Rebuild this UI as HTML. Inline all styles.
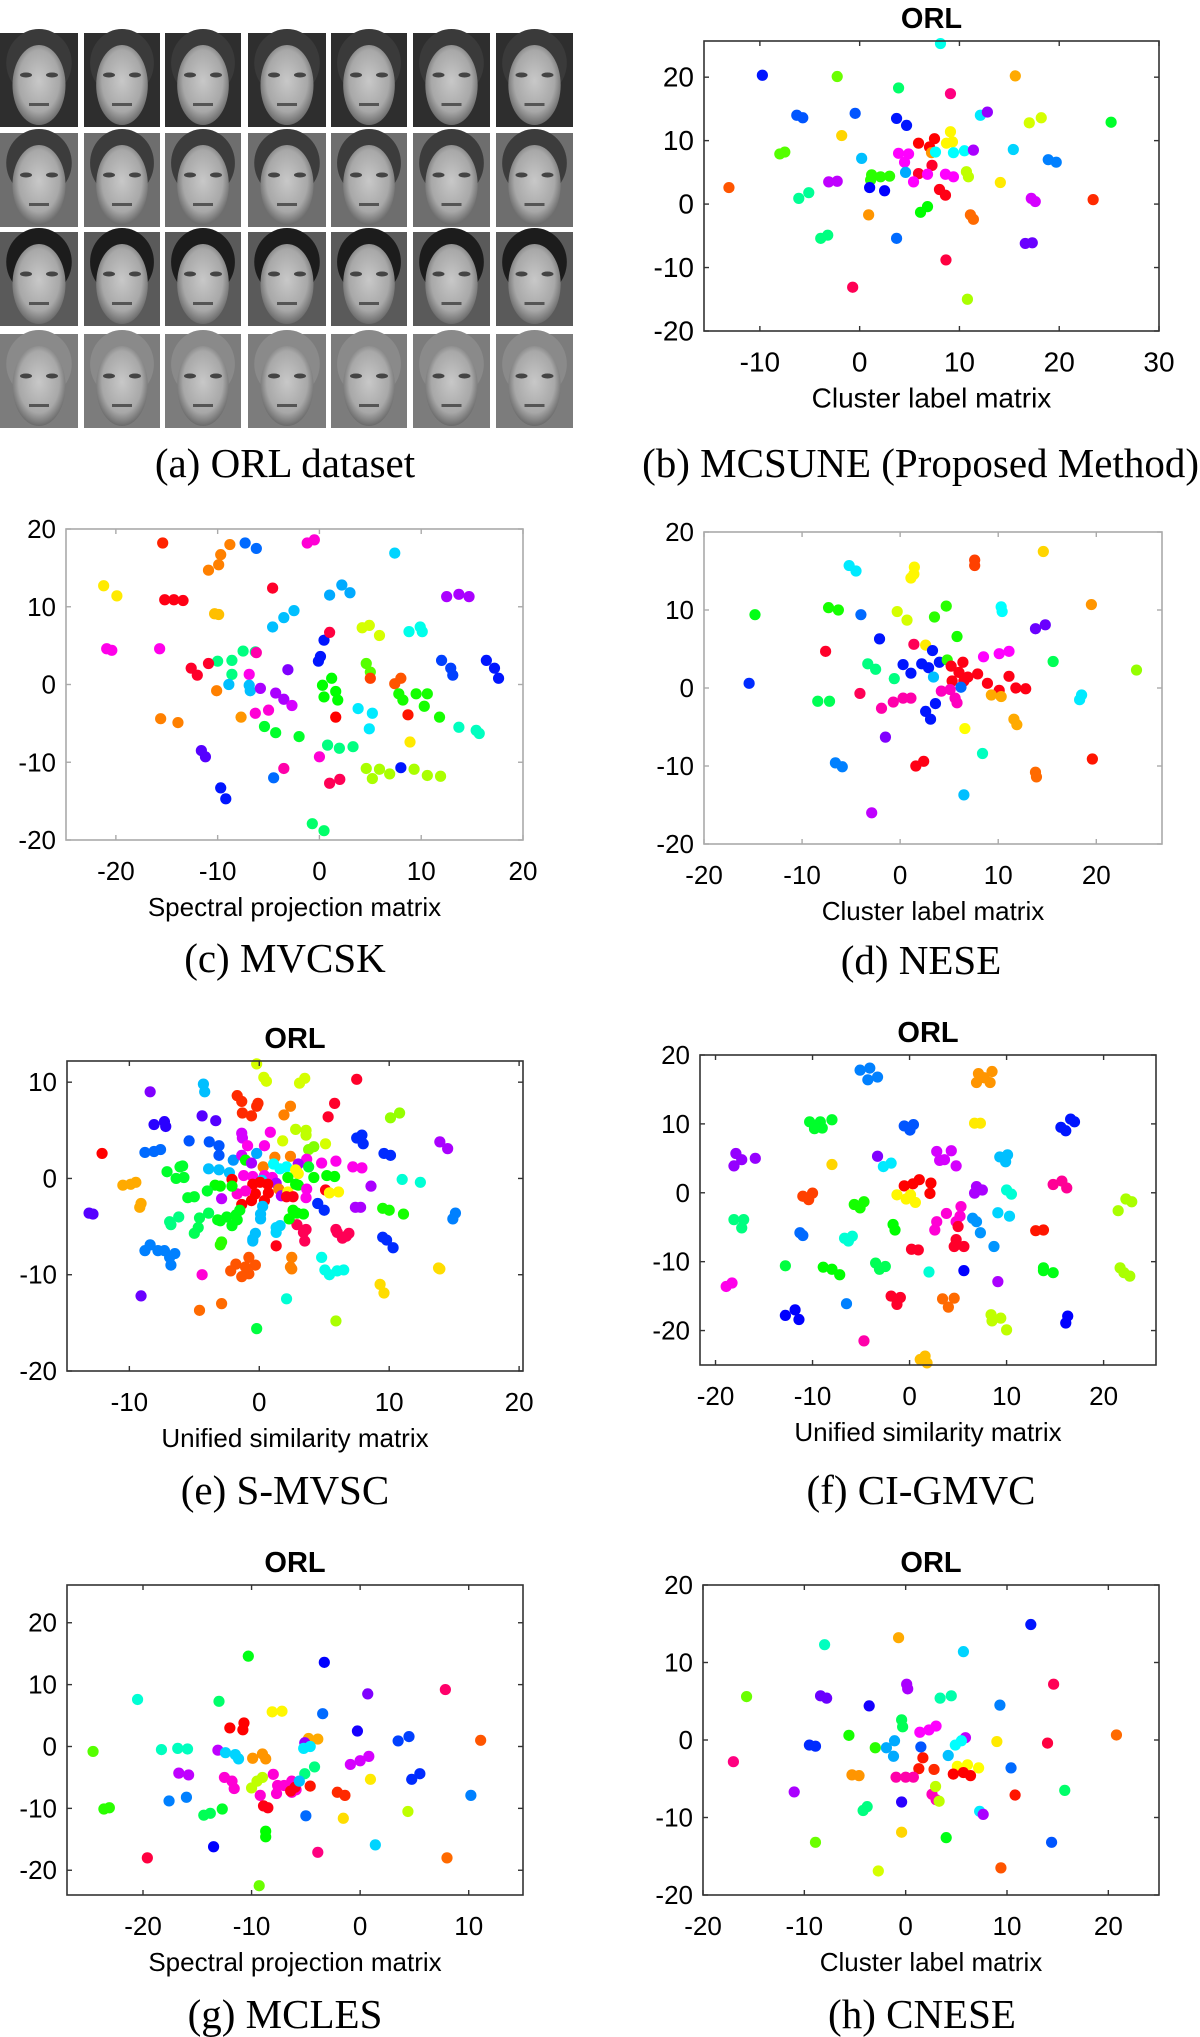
<!DOCTYPE html>
<html>
<head>
<meta charset="utf-8">
<style>
html,body{margin:0;padding:0;background:#fff;}
#fig{display:block;width:1200px;height:2037px;}
</style>
</head>
<body>
<svg id="fig" xmlns="http://www.w3.org/2000/svg" width="1200" height="2037" viewBox="0 0 1200 2037">
<defs>
<radialGradient id="faceL" cx="50%" cy="45%" r="55%"><stop offset="0" stop-color="#c8c8c8"/><stop offset="0.7" stop-color="#a8a8a8"/><stop offset="1" stop-color="#6a6a6a"/></radialGradient>
</defs>
<g id="faces"></g>
<g id="plots"></g>
</svg>
<script>
// ---------- data (x, y, cluster hue) ----------
const ptsB = [[-9.75,20.3,235],[-2.25,20.1,95],[8.1,25.3,175],[3.9,18.3,145],[9.1,17.4,330],[15.6,20.2,40],[-6.3,14,220],[-5.7,13.6,220],[-0.45,14.3,220],[3.7,13.5,235],[4.7,12.4,235],[12.1,14,185],[12.8,14.5,275],[17,12.8,70],[18.2,13.6,70],[25.2,12.9,130],[-1.8,10.8,50],[-8,7.9,100],[-7.5,8.2,100],[5.9,9.6,0],[7,9,0],[7.5,10.3,0],[9.1,11.4,58],[8.7,9.6,58],[9.3,9.8,58],[7.2,8.1,35],[7.6,8.2,180],[9.4,8.1,180],[10.5,8.4,180],[11.4,8.5,280],[0.2,7.2,195],[3.9,8,300],[4.9,7.9,300],[4.5,6.6,300],[15.4,8.6,190],[18.9,7,210],[19.7,6.6,210],[1.2,4.6,110],[2.1,4.3,110],[3,4.4,110],[1.1,3.8,110],[-3.1,3.5,285],[-2.25,3.6,285],[1,2.6,240],[2.5,2.1,240],[4.6,5,200],[5.9,4.8,350],[7.25,6.1,350],[5.4,3.5,300],[6.8,4.7,300],[8.6,4.7,300],[9.4,4.3,300],[8,2.3,355],[8.6,1.4,355],[10.7,5.1,75],[10.9,4.3,75],[14.1,3.4,55],[-6.1,0.9,155],[-5.1,1.8,155],[-13.1,2.6,20],[17.2,0.9,290],[17.6,0.4,290],[23.4,0.7,10],[0.9,-1.7,35],[6.1,-1.3,120],[6.8,-0.4,120],[11.1,-1.7,25],[11.4,-2.4,25],[-3.9,-5.4,150],[-3.2,-4.9,150],[3.7,-5.4,215],[16.6,-6.2,265],[17.3,-6.1,265],[8.65,-8.8,345],[-0.7,-13.1,340],[10.8,-15,80]];
const ptsC = [[-15.4,18.2,8],[-10.9,14.7,30],[-9.9,15.4,30],[-9.7,16.7,30],[-8.8,18,30],[-7.3,18.2,215],[-6.2,17.5,215],[-0.5,18.6,310],[-1.2,18.2,310],[7.4,16.9,190],[-21.2,12.7,55],[-19.9,11.4,55],[-15.2,10.9,355],[-14.3,10.9,355],[-13.4,10.8,355],[-9.9,9,45],[-10.3,9.1,45],[-4.6,12.4,350],[1,11.5,200],[2.2,12.8,200],[3,11.8,200],[12.5,11.3,280],[13.7,11.6,280],[14.7,11.3,280],[-4.6,7.4,195],[-3.5,8.6,195],[-2.5,9.5,195],[4.2,7.3,70],[4.9,7.6,70],[5.9,6.3,70],[8.8,6.8,175],[9.9,7.4,175],[10.1,6.8,175],[-20.9,4.6,305],[-20.4,4.4,305],[-15.7,4.6,305],[0.45,5.7,235],[0.1,3.6,235],[-0.1,3,235],[1,6.7,345],[-10,3,150],[-8.6,3.1,150],[-8.6,1.3,150],[-7.5,4.3,150],[-6.3,4.2,150],[-12.6,2.1,350],[-12,1.2,350],[-10.9,2.7,350],[-3.1,1.9,270],[4.6,2.7,100],[5,1.6,100],[5,0.8,15],[12,3.1,225],[12.9,2.1,225],[13.1,1.2,225],[16.4,3.1,235],[17.2,2.1,235],[17.6,0.8,235],[-6.9,1.3,305],[-6.2,4.1,320],[-8.9,0,195],[-6.9,-0.1,195],[-6.8,-0.8,195],[-10.1,-0.8,30],[-5.8,-0.5,280],[-4.3,-1.1,280],[-3.5,-1.9,280],[-2.7,-2.7,290],[0.3,-0.1,120],[0.45,-1.6,120],[1.6,-0.9,120],[1.8,-2,120],[1.2,0.8,120],[7.4,0.1,20],[8,0.8,20],[7.8,-1.2,115],[8.2,-2,115],[9.5,-1.2,115],[10.6,-1.2,115],[10.3,-2.8,115],[11.8,-4.2,115],[-15.6,-4.4,30],[-13.9,-4.9,30],[-7.7,-4.2,35],[-6.3,-3.7,310],[-5,-3.3,310],[-5.4,-5.4,130],[-4.3,-6.2,130],[-2,-6.7,130],[1.6,-4.2,0],[3.8,-3.1,185],[5.2,-3.7,185],[4.9,-5.7,185],[8.7,-3.9,5],[13.7,-5.5,165],[15.7,-6.3,165],[15.4,-5.9,165],[0.8,-7.8,150],[1.96,-8.2,150],[3.3,-8,150],[8.9,-7.4,55],[-11.6,-8.5,260],[-11.2,-9.3,260],[0,-9.3,310],[-4.5,-12,215],[-3.5,-10.8,320],[1,-12.7,340],[2,-12.2,340],[4.6,-10.8,80],[5.2,-12.1,80],[5.9,-10.9,80],[6.9,-11.5,80],[8,-10.7,235],[9.3,-10.9,80],[10.6,-11.7,80],[11.9,-11.8,80],[-9.7,-13.3,235],[-9.2,-14.7,235],[-0.7,-17.9,145],[0.45,-18.8,145]];
const ptsD = [[-5.2,15.7,185],[-4.5,15,185],[1.4,14.6,58],[1.1,14.1,58],[1.45,15.5,58],[7.6,16.4,15],[7.6,15.7,15],[14.6,17.5,50],[19.5,10.7,35],[-14.8,9.4,125],[-7.3,10.3,115],[-6.3,10,115],[-4,9.4,215],[-0.3,9.8,70],[0.7,8.7,70],[3.5,9.1,110],[4.7,10.5,110],[10.3,10.4,180],[10.4,9.8,180],[13.8,7.6,265],[14.8,8.1,265],[5.8,6.6,115],[-2.1,6.3,235],[-7.6,4.7,350],[1.4,5.6,340],[2.6,5.5,55],[3.3,4.8,235],[8.5,4,300],[10.1,4.4,300],[11.1,4.7,300],[15.6,3.4,140],[24.1,2.3,85],[-15.4,0.6,230],[-3.3,3.1,150],[-2.5,2.4,150],[0.3,3,235],[1.1,1.9,235],[2.2,3.1,235],[2.9,2.6,235],[4,3.3,235],[-0.6,1.2,150],[3.4,1.4,195],[4.8,3.6,110],[5.2,2.8,355],[6,2,355],[6.9,1.4,355],[7.9,1.8,355],[8.9,0.6,355],[10.1,-0.3,355],[11.1,1.5,355],[11.8,0,355],[12.8,-0.1,355],[6.4,3.3,355],[5.3,0.9,355],[6.5,0.9,355],[6.2,0.1,215],[4.2,-0.4,315],[5.1,-0.2,315],[5.6,-1.3,315],[5.8,-1.9,315],[-1.9,-2.6,320],[-0.7,-1.8,320],[0.3,-1.3,320],[1.1,-1.3,320],[9.3,-0.9,40],[10.3,-1.1,40],[18.3,-1.5,185],[18.5,-0.9,185],[-8.4,-1.7,140],[-7.2,-1.7,140],[-4.1,-0.7,340],[3.6,-2,235],[2.6,-3,235],[3.1,-4,235],[6.6,-5.2,60],[11.6,-4,40],[11.9,-4.7,40],[-1.5,-6.3,270],[8.4,-8.4,165],[1.6,-10,355],[2.4,-9.4,355],[-6.6,-9.6,210],[-5.9,-10.1,210],[19.6,-9.1,5],[13.9,-11.4,25],[13.8,-10.8,25],[6.5,-13.7,195],[-2.9,-16,285]];
const ptsE = [[-0.2,11.9,70],[0.35,10.5,70],[0.55,10.1,70],[3.1,9.9,70],[3.5,10.4,70],[7.5,10.3,350],[-8.4,9,270],[-4.3,9.8,195],[-4.2,9,195],[-1.7,8.6,10],[-1.35,8,10],[-1.3,6.8,10],[-0.6,6.5,10],[-0.2,7.5,10],[-0.1,7.8,10],[1.9,6.6,30],[2.4,7.5,30],[5.8,7.8,350],[5.3,6.4,350],[10.1,6.3,85],[10.8,6.8,85],[-4.4,6.5,260],[-3.35,6,260],[-8.1,5.6,250],[-7.3,5.9,250],[-7.2,5.4,250],[2.8,5.1,75],[3.6,5,75],[3.6,4.5,75],[-1.35,4.7,290],[-1.3,4.2,290],[0.85,4.8,305],[7.5,4.2,230],[7.9,4.5,230],[8,3.6,230],[13.9,3.8,280],[14.5,3.1,280],[-5.4,3.9,220],[-3.85,3.8,220],[-3.1,3.4,220],[-3.1,2.4,220],[-8.8,2.7,215],[-8.1,2.8,215],[-7.6,3,215],[-12.1,2.6,0],[1.8,3.9,70],[3.8,3,90],[4.2,3.3,90],[5.1,3.6,70],[9.6,2.6,230],[10.1,2.4,230],[-2,1.9,205],[-1.35,2.4,290],[-0.9,3.4,305],[-0.2,2.6,200],[0.4,3.4,305],[1.2,2.2,30],[2.4,2.3,30],[3.65,2,305],[3,1.5,280],[3.8,1.2,130],[4.8,1.6,305],[5.9,1.8,305],[7.2,1.2,305],[7.9,1.1,305],[-6.1,1.2,130],[-5.9,1.3,130],[-6.4,0,130],[-5.8,0.1,130],[-7.1,0.7,130],[-3.9,1,195],[-3.1,0.9,195],[-2.3,0.6,195],[-1.06,1.9,120],[-0.6,1.6,280],[0.3,1.2,30],[1.1,1.5,180],[1.6,1,180],[2.1,1.2,180],[2.8,0.9,58],[3,0.5,58],[2.2,0.1,120],[4.2,0.1,120],[5.2,0.3,120],[5.8,0.2,120],[-1.2,0.3,305],[-0.5,0.2,305],[0.4,0.3,305],[1,0.1,305],[1.3,-0.5,280],[0.2,-0.2,190],[-2.1,-0.1,0],[-0.5,-0.6,0],[0.06,-0.4,0],[0.65,-0.6,0],[0.7,-1.5,0],[-0.3,-1.6,0],[-0.6,-2.3,0],[0.4,-2.3,0],[-1.35,-2.7,0],[-1.7,-1.6,310],[-1.06,-1.3,310],[-2.9,-2.1,285],[1.5,-1.1,30],[1.7,-1.8,280],[2.2,-1.4,58],[2.6,-1.9,355],[2.1,-1.9,355],[2.8,-0.6,120],[3,-0.7,120],[3.65,-1.1,305],[3.6,-2,305],[-3.4,-0.7,120],[-3,-0.8,120],[-2.1,-0.8,120],[-10.5,-0.7,40],[-9.9,-0.6,40],[-9.5,-0.4,40],[-9.1,-2.6,40],[-9.2,-3,40],[-13.1,-3.6,260],[-12.8,-3.7,260],[-5.5,-2,130],[-5,-1.9,130],[-4,-1.3,130],[5.1,-1.2,355],[5.4,-1.5,58],[6.1,-1.4,58],[4.5,-2.6,230],[5,-3.3,230],[7.4,-3,280],[7.8,-3,280],[8.6,-0.8,280],[11,-0.1,170],[12.4,-0.4,170],[9.5,-3.1,115],[10,-3.3,115],[11.1,-3.7,115],[15.1,-3.6,210],[14.9,-4.2,210],[9.5,-6.1,230],[9.8,-6.4,230],[10.3,-7.2,230],[5.9,-5.3,340],[6,-5.6,340],[6.7,-6,340],[6.9,-5.7,340],[6.4,-6.2,340],[2.9,-4.8,340],[3.4,-5.6,340],[3.6,-5.3,340],[3.5,-6.5,340],[1.3,-5.1,190],[1.6,-4.9,190],[1.3,-5.6,190],[2.3,-4.2,120],[2.6,-3.3,120],[2.9,-3.6,120],[3.4,-3.7,120],[1.3,-7,355],[0.1,-3.7,195],[0.1,-4.2,195],[0.26,-2.9,195],[-0.3,-5.7,195],[-0.5,-6.3,195],[-0.5,-6.5,195],[-1.5,-3.3,125],[-1.8,-3.8,125],[-1.7,-4.3,125],[-2.1,-4.9,125],[-2.5,-4,125],[-3,-4.4,125],[-3.2,-4.3,125],[-3.9,-3.6,140],[-4.6,-4.1,140],[-4.7,-5.1,140],[-5,-5.7,140],[-6.2,-4,150],[-6.9,-4.5,150],[-6.8,-4.8,150],[-2.9,-6.6,110],[-3,-6.9,110],[-8.8,-7.5,210],[-8.4,-6.9,210],[-7.8,-7.5,210],[-7.3,-7.5,210],[-6.9,-8.2,210],[-6.5,-7.8,210],[-6.8,-9,210],[-0.8,-8.2,20],[-0.3,-9,20],[-0.8,-9.9,20],[-1.06,-9.2,20],[-1.35,-10.2,20],[-1.8,-8.9,20],[-2.2,-9.6,20],[2.5,-8.2,30],[2.4,-9.2,30],[2.5,-9.4,30],[4.8,-8.2,175],[5.05,-9.5,175],[5.4,-10,175],[6,-9.6,175],[6.5,-9.5,175],[-4.4,-10,310],[-9.1,-12.2,265],[-4.6,-13.7,25],[-2.9,-13,25],[2.1,-12.5,170],[-0.2,-15.6,135],[5.9,-14.8,80],[9.3,-11,52],[9.6,-11.9,52],[13.8,-9.3,52],[13.9,-9.4,52]];
const ptsF = [[-5.1,17.8,210],[-4.1,18.1,210],[-4.3,16.4,210],[-3.3,16.8,210],[7.1,17.3,35],[8.5,17.6,35],[7.7,16.7,35],[6.9,16,35],[8.3,16,35],[-10.3,10.3,130],[-9.2,10.3,130],[-8,10.6,130],[-9,9.4,130],[-9.8,9.3,130],[-0.55,9.7,220],[0.4,9.9,220],[0.04,9.1,220],[6.7,10.1,55],[7.3,10.1,55],[15.6,9.5,235],[16.6,10.7,235],[17,10.3,235],[16.1,9,235],[-17.9,5.7,275],[-17.3,4.8,275],[-15.9,5,275],[-18.1,3.9,275],[-8,4.1,50],[-3.3,5.3,270],[-2.7,3.8,185],[-1.9,4.3,185],[2.8,6,290],[4.3,6.1,290],[3.6,4.8,290],[4.8,3.9,290],[3.1,4.7,290],[9.3,5.2,195],[10.1,5.5,195],[9.9,4.5,195],[-0.55,1,0],[0.35,1.3,0],[1,1.9,0],[2.2,1.4,0],[2.1,-0.1,0],[6.9,0.9,280],[7.5,0.4,280],[6.7,-0.05,280],[10,0.4,170],[10.5,-0.2,170],[14.8,1.2,325],[15.7,1.7,325],[16.2,0.7,325],[22.3,-0.9,80],[22.9,-1.3,80],[21.5,-2.6,80],[-11,-0.5,15],[-10,-0.05,15],[-10.4,-1,15],[-1.3,-0.3,58],[-0.35,-0.9,58],[0.6,-1.4,58],[0.1,-0.3,58],[-5.7,-1.7,115],[-5.1,-2.2,115],[-4.7,-1.3,115],[-18.1,-3.9,150],[-17.1,-3.9,150],[-17.3,-5.1,150],[2.8,-4.2,310],[3.8,-3,310],[5.2,-3.4,310],[4.8,-4.2,310],[2.6,-5.4,310],[5.3,-2,310],[5,-4.9,350],[4.8,-6.8,350],[4.6,-7.8,350],[5.6,-7.8,350],[6.5,-3.7,205],[6.9,-4.2,205],[9.1,-2.9,190],[10.3,-3.4,190],[13,-5.5,5],[13.8,-5.4,5],[-11.3,-5.8,215],[-11,-6.2,215],[-1.7,-4.6,120],[-1.5,-5.4,120],[-6.7,-6.6,170],[-5.9,-6.3,170],[-6.3,-7,170],[7.3,-5.8,205],[8.7,-7.8,205],[0.2,-8.2,350],[0.9,-8.3,350],[-12.8,-10.6,135],[-8.9,-10.8,120],[-8,-11.1,120],[-7.2,-11.9,120],[-3.5,-10.2,140],[-2.5,-10.7,140],[-3.1,-11.1,140],[2,-11.5,170],[5.6,-11.3,240],[9.1,-12.9,280],[13.8,-11.3,125],[14.8,-11.6,125],[13.8,-10.9,125],[21.7,-10.9,80],[22.7,-12.1,80],[22.1,-11.6,80],[-18.9,-13.6,305],[-18.3,-13.1,305],[-11.8,-17,240],[-12.8,-17.8,240],[-11.4,-18.4,240],[-6.5,-16.1,210],[-1.9,-15,350],[-1.3,-16.2,350],[-0.95,-15.2,350],[3.4,-15.4,25],[4.6,-15.3,25],[4,-16.6,25],[8.5,-18.6,75],[9.4,-18.2,75],[10,-19.9,75],[8.4,-17.7,75],[16.3,-17.9,240],[16.1,-18.9,240],[-4.7,-21.5,320],[1.6,-23.7,45],[1.1,-24.2,45],[1.8,-24.7,45]];
const ptsG = [[-10.3,14.6,125],[-3.3,13.6,240],[7.85,9.2,335],[0.7,8.5,270],[-20.5,7.6,170],[-13,7.3,145],[-8.1,5.6,58],[-7.2,5.7,58],[-3.45,5.3,215],[-12,3,0],[-10.7,3.8,0],[-10.8,2.7,0],[-0.25,2.5,245],[3.5,0.9,225],[4.5,1.6,225],[11.1,1,20],[-4.75,1.3,40],[-3.9,1.2,40],[-5.1,0.6,275],[-5.2,-0.3,185],[-4.6,0,185],[-24.6,-0.8,100],[-18.3,-0.5,165],[-16.8,-0.3,165],[-15.9,-0.4,165],[-13.1,-0.6,285],[-12.4,-1,190],[-11.5,-1.3,190],[-11.2,-2,190],[-9.9,-1.9,35],[-9,-1.2,35],[-8.7,-2,35],[-0.9,-2.9,290],[0,-2.3,290],[0.8,-1.6,290],[-5.1,-4.4,150],[-4.2,-3.3,150],[-16.7,-4.3,285],[-15.8,-4.6,285],[-12.5,-5,310],[-11.8,-5.6,310],[-11.6,-6.8,310],[-8,-4.5,310],[-10,-6.7,75],[-9.5,-5.6,75],[-9,-5,75],[-7.6,-6.3,310],[-7,-6.3,310],[-6.3,-5.6,310],[-5.9,-7,310],[-6.3,-7.4,310],[-7.7,-7.6,310],[-6.4,-7.2,355],[-6,-6.6,355],[-4.6,-6.4,5],[-5.6,-5.6,195],[-9.2,-7.9,310],[4.75,-5.3,230],[5.5,-4.4,230],[0.95,-5.3,55],[-2.1,-7.4,10],[-1.4,-7.9,10],[-17.6,-8.8,210],[-16,-8.2,210],[-23.6,-10.1,110],[-23.1,-9.9,110],[-14.4,-11.1,140],[-13.8,-10.8,140],[-12.7,-10.1,130],[-8.9,-9.6,355],[-8.5,-9.9,355],[-5,-11.2,215],[-1.55,-11.6,52],[4.4,-10.5,75],[10.2,-7.9,210],[-8.7,-13.7,120],[-8.7,-14.6,120],[1.4,-15.9,190],[-13.5,-16.2,240],[-3.9,-17.1,330],[-19.6,-18,345],[8,-18,25],[-9.3,-22.5,95]];
const ptsH = [[12.35,14.9,235],[-0.7,13.2,40],[-8,12.3,165],[5.7,11.4,190],[0.1,7.2,280],[0.2,6.6,280],[14.6,7.2,340],[-15.7,5.6,95],[-8.4,5.7,265],[-7.8,5.4,265],[3.4,5.4,160],[4.5,5.7,160],[9.3,4.5,210],[-3.6,4.4,245],[-0.4,2.6,140],[-0.3,1.7,140],[1.4,1,300],[2.3,1.3,300],[3,1.8,300],[-5.6,0.6,115],[-1.1,-0.1,200],[-1.9,-1,200],[-1.2,-2.1,200],[1.5,-0.9,220],[-9.5,-0.65,230],[-8.9,-0.8,230],[-17,-2.8,330],[-3,-1,110],[5.9,0.3,285],[4.9,-0.65,180],[5.5,-0.1,180],[9,-0.2,55],[14,-0.4,345],[20.8,0.65,25],[4.2,-2,195],[1.7,-2.3,5],[1.3,-3.7,5],[2.8,-3.8,10],[5.1,-3.4,60],[6.1,-3.2,60],[7.2,-3.6,60],[4.7,-4.4,0],[5.7,-4.2,0],[6.4,-4.6,0],[10.4,-3.6,215],[-5.3,-4.5,35],[-4.6,-4.6,35],[-0.95,-4.8,320],[0,-4.8,320],[0.76,-4.8,320],[15.7,-6.5,145],[10.8,-7.1,5],[2.6,-7,315],[3,-7.7,315],[2.95,-6,75],[3.3,-7.9,75],[-11,-6.7,280],[-4.2,-9.1,150],[-3.8,-8.6,150],[-0.4,-8,250],[7.3,-9.2,185],[7.65,-9.6,280],[-0.4,-11.9,50],[4,-12.6,125],[-8.9,-13.2,95],[14.4,-13.2,220],[9.4,-16.5,20],[-2.7,-16.9,70]];

// tick value arrays
const ticksBx = [-10,0,10,20,30], ticksBy = [-20,-10,0,10,20];
const ticksCx = [-20,-10,0,10,20], ticksCy = [-20,-10,0,10,20];
const ticksDx = [-20,-10,0,10,20], ticksDy = [-20,-10,0,10,20];
const ticksEx = [-10,0,10,20], ticksEy = [-20,-10,0,10];
const ticksFx = [-20,-10,0,10,20], ticksFy = [-20,-10,0,10,20];
const ticksGx = [-20,-10,0,10], ticksGy = [-20,-10,0,10,20];
const ticksHx = [-20,-10,0,10,20], ticksHy = [-20,-10,0,10,20];

const NS = "http://www.w3.org/2000/svg";
function mk(tag, attrs, parent){
  const e = document.createElementNS(NS, tag);
  for (const k in attrs) e.setAttribute(k, attrs[k]);
  if (parent) parent.appendChild(e);
  return e;
}

// ---------- faces ----------
const faceG = document.getElementById('faces');
const colX = [0,84,165,248,331,413,496], colW = [78,76,76,78,76,77,77];
const rowY = [33,133,232,334], rowH = 94;
const rowBg = ['#2e2e2e','#6e6e6e','#5a5a5a','#7c7c7c'];
const rowHair = ['#3a3a3a','#3c3c3c','#1c1c1c','#8a8a8a'];
rowY.forEach((ry, r) => {
  colX.forEach((cx, c) => {
    const g = mk('g', {}, faceG);
    
    
    const w = colW[c];
    mk('rect', {x: cx, y: ry, width: w, height: rowH, fill: rowBg[r]}, g);
    mk('ellipse', {cx: cx + w/2, cy: ry + 30, rx: w*0.42, ry: 34, fill: rowHair[r]}, g);
    mk('ellipse', {cx: cx + w/2, cy: ry + 52, rx: w*0.34, ry: 40, fill: 'url(#faceL)'}, g);
    mk('ellipse', {cx: cx + w/2 - 13, cy: ry + 42, rx: 6, ry: 2.5, fill: '#444'}, g);
    mk('ellipse', {cx: cx + w/2 + 13, cy: ry + 42, rx: 6, ry: 2.5, fill: '#444'}, g);
    mk('rect', {x: cx + w/2 - 10, y: ry + 70, width: 20, height: 3, fill: '#555'}, g);
  });
});

// ---------- scatter panels ----------
const plots = document.getElementById('plots');
function panel(key, box, xlim, ylim, xt, yt, pts, title, xlabel, fs, frame){
  const g = mk('g', {}, plots);
  
  
  const [L, T, R, B] = box;
  const sx = v => L + (v - xlim[0]) / (xlim[1] - xlim[0]) * (R - L);
  const sy = v => B - (v - ylim[0]) / (ylim[1] - ylim[0]) * (B - T);
  const pg = mk('g', {}, g);
  
  
  pts.forEach(p => {
    const c = mk('circle', {cx: sx(p[0]), cy: sy(p[1]), r: 5.6, fill: 'hsl(' + p[2] + ',100%,50%)'}, pg);
    
    
  });
  const fr = mk('rect', {x: L, y: T, width: R - L, height: B - T, fill: 'none', stroke: frame, 'stroke-width': 1.6}, g);
  
  
  const tl = 5;
  xt.forEach(v => {
    const x = sx(v);
    mk('line', {x1: x, y1: B, x2: x, y2: B - tl, stroke: frame, 'stroke-width': 1.4}, g);
    mk('line', {x1: x, y1: T, x2: x, y2: T + tl, stroke: frame, 'stroke-width': 1.4}, g);
    const t = mk('text', {x: x, y: B + 31, 'text-anchor': 'middle', 'dominant-baseline': 'central', 'font-size': fs, 'font-family': '"Liberation Sans", Arial, sans-serif', fill: '#000'}, g);
    
    
    t.textContent = v;
  });
  yt.forEach(v => {
    const y = sy(v);
    mk('line', {x1: L, y1: y, x2: L + tl, y2: y, stroke: frame, 'stroke-width': 1.4}, g);
    mk('line', {x1: R, y1: y, x2: R - tl, y2: y, stroke: frame, 'stroke-width': 1.4}, g);
    const t = mk('text', {x: L - 10, y: y, 'text-anchor': 'end', 'dominant-baseline': 'central', 'font-size': fs, 'font-family': '"Liberation Sans", Arial, sans-serif', fill: '#000'}, g);
    
    
    t.textContent = v;
  });
  if (title){
    const t = mk('text', {x: (L + R)/2, y: T - 22, 'text-anchor': 'middle', 'dominant-baseline': 'central', 'font-size': 29, 'font-weight': 'bold', 'font-family': '"Liberation Sans", Arial, sans-serif', fill: '#000'}, g);
    
    
    t.textContent = title;
  }
  const xl = mk('text', {x: (L + R)/2, y: B + 67, 'text-anchor': 'middle', 'dominant-baseline': 'central', 'font-size': fs, 'font-family': '"Liberation Sans", Arial, sans-serif', fill: '#000'}, g);
  
  
  xl.textContent = xlabel;
}

panel('b', [704,41,1159,331], [-15.6,30], [-20,25.7], ticksBx, ticksBy, ptsB, 'ORL', 'Cluster label matrix', 28, '#333');
panel('c', [66,529,523,840], [-24.9,20], [-20,20], ticksCx, ticksCy, ptsC, '', 'Spectral projection matrix', 26, '#aaa');
panel('d', [704,532,1162,844], [-20,26.7], [-20,20], ticksDx, ticksDy, ptsD, '', 'Cluster label matrix', 26, '#aaa');
panel('e', [67,1061,523,1371], [-14.8,20.3], [-20,12.2], ticksEx, ticksEy, ptsE, 'ORL', 'Unified similarity matrix', 26, '#333');
panel('f', [700,1055,1156,1365], [-21.6,25.4], [-25,20], ticksFx, ticksFy, ptsF, 'ORL', 'Unified similarity matrix', 26, '#333');
panel('g', [67,1585,523,1895], [-27,15], [-24,26.1], ticksGx, ticksGy, ptsG, 'ORL', 'Spectral projection matrix', 26, '#333');
panel('h', [703,1585,1159,1895], [-20,25], [-20,20], ticksHx, ticksHy, ptsH, 'ORL', 'Cluster label matrix', 26, '#333');

// ---------- captions ----------
const captions = [['(a) ORL dataset',285,463,'middle'],['(b) MCSUNE (Proposed Method)',1199,463,'end'],['(c) MVCSK',285,958,'middle'],['(d) NESE',921,960,'middle'],['(e) S-MVSC',285,1490,'middle'],['(f) CI-GMVC',921,1490,'middle'],['(g) MCLES',285,2014,'middle'],['(h) CNESE',922,2014,'middle']];
captions.forEach(c => {
  const t = mk('text', {x: c[1], y: c[2], 'text-anchor': c[3], 'dominant-baseline': 'central', 'font-size': 41, 'font-family': '"Liberation Serif", "Times New Roman", serif', fill: '#000'}, plots);
  
  
  t.textContent = c[0];
});
</script>
</body>
</html>
